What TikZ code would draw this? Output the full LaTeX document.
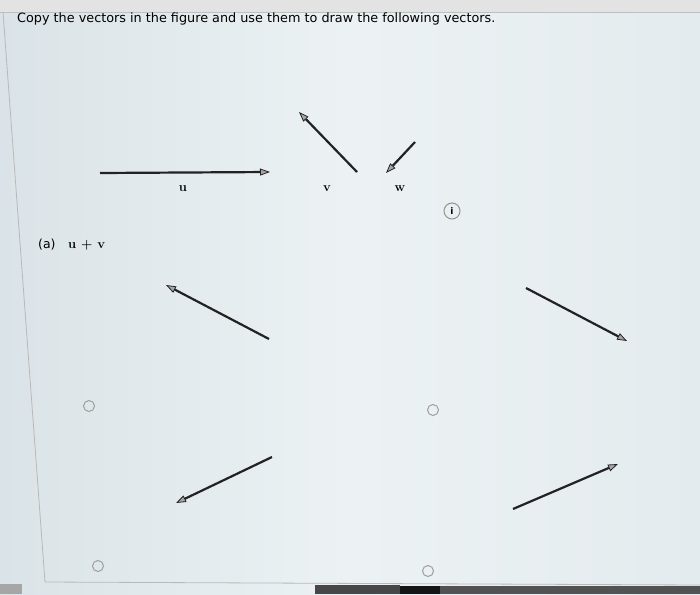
\documentclass[tikz,border=0pt]{standalone}
\usepackage{fontspec}
\setsansfont{DejaVu Sans}
\usetikzlibrary{arrows.meta}

\definecolor{screenL}{RGB}{218,227,231}
\definecolor{screenM}{RGB}{236,242,244}
\definecolor{screenR}{RGB}{228,235,238}
\definecolor{inkdark}{RGB}{34,34,36}

\begin{document}
\begin{tikzpicture}[x=1pt, y=-1pt,
  vec/.style={draw=inkdark, line width=2.2pt,
    -{Triangle[length=10pt, width=7pt, fill=gray!70, line width=0.8pt]}},
  radio/.style={draw=gray!75, line width=1pt},
  lbl/.style={font=\bfseries\fontsize{13}{15}\selectfont, inner sep=1pt},
]
\useasboundingbox (0,0) rectangle (700,594);
\shade[left color=screenL, right color=screenR, middle color=screenM] (0,0) rectangle (700,594);
\fill[gray!22] (0,0) rectangle (700,12);
\draw[gray!50, line width=0.6pt] (0,12) -- (700,12);
\draw[gray!55, line width=0.8pt] (3,12) -- (45,582);
\draw[gray!55, line width=0.8pt] (45,582) -- (700,585);
\fill[gray!70] (0,584) rectangle (22,594);
\fill[black!72] (315,585) rectangle (400,594);
\fill[black!92] (400,586) rectangle (440,594);
\fill[black!68] (440,586) rectangle (700,594);

\node[anchor=west, font=\sffamily\fontsize{12.8}{15}\selectfont, inner sep=0pt]
  (title) at (17,19) {Copy the vectors in the figure and use them to draw the following vectors.};

% given vectors
\coordinate (U0) at (100,173);
\coordinate (U1) at (270,172);
\coordinate (V0) at (357,172);
\coordinate (V1) at (299,112);
\coordinate (W0) at (415,142);
\coordinate (W1) at (386,173);

\draw[vec] (U0) -- (U1);
\draw[vec] (V0) -- (V1);
\draw[vec] (W0) -- (W1);
\node[lbl] (ulbl) at (183,189) {u};
\node[lbl] (vlbl) at (327,189) {v};
\node[lbl] (wlbl) at (400,189) {w};

\node[circle, draw=gray!85, line width=1pt, minimum size=16pt, inner sep=0pt,
  font=\sffamily\bfseries\small] (info) at (452,211) {i};

\node[anchor=west, font=\sffamily\fontsize{12.5}{15}\selectfont, inner sep=0pt] (parta) at (38,245) {(a)};
\node[anchor=west, font=\bfseries\fontsize{13}{15}\selectfont, inner sep=0pt] (sumuv) at (68,245) {u + v};

% answer choices
\coordinate (A0) at (269,339);
\coordinate (A1) at (166,285);
\coordinate (B0) at (526,288);
\coordinate (B1) at (627,341);
\coordinate (C0) at (272,457);
\coordinate (C1) at (176,503);
\coordinate (D0) at (513,509);
\coordinate (D1) at (618,464);

\draw[vec] (A0) -- (A1);
\draw[vec] (B0) -- (B1);
\draw[vec] (C0) -- (C1);
\draw[vec] (D0) -- (D1);

\draw[radio] (89,406) circle (5.5);
\draw[radio] (433,410) circle (5.5);
\draw[radio] (98,566) circle (5.5);
\draw[radio] (428,571) circle (5.5);
\end{tikzpicture}
\end{document}
